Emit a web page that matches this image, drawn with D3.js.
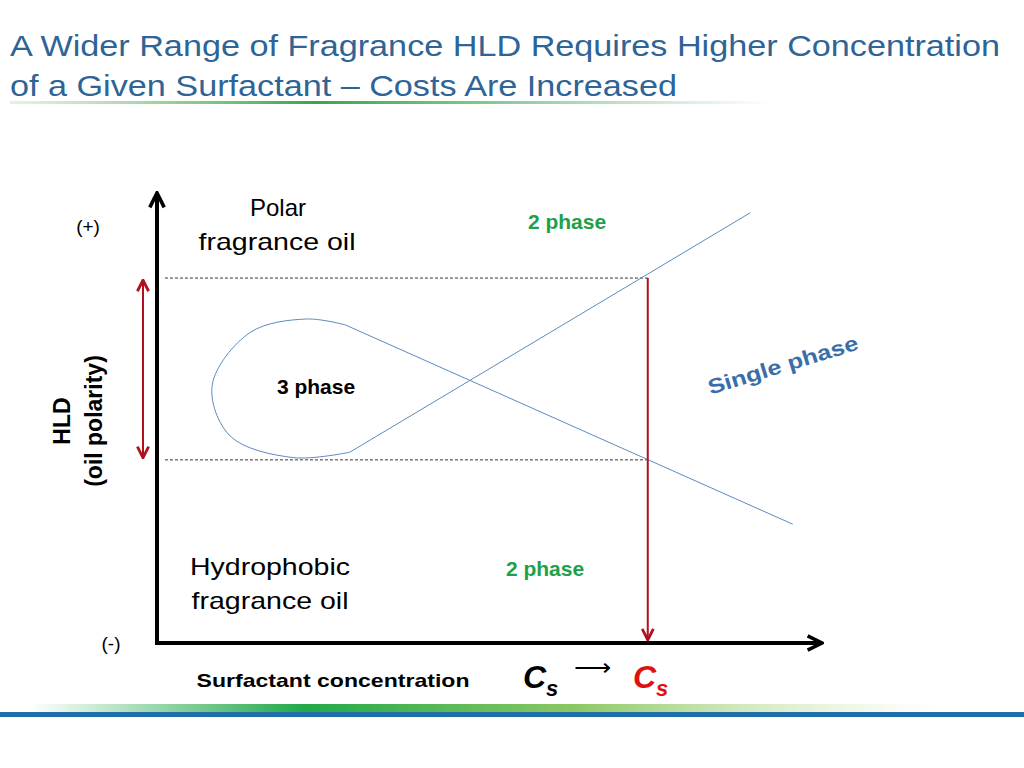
<!DOCTYPE html>
<html><head><meta charset="utf-8">
<script src="https://cdn.jsdelivr.net/npm/d3@7"></script>
<style>body{margin:0;background:#fff}text{font-family:"Liberation Sans",Arial,sans-serif}</style>
</head><body><div id="chart"></div>
<script>
// concentration (x) / HLD (y), both 0..100 units
var line1 = [[29.0, 42.4], [89.2, 95.6]];
var line2 = [[28.3, 70.7], [95.6, 26.4]];
var loop = [[28.3, 70.7], [22.5, 72.0], [14.0, 69.0], [8.3, 57.3], [11.0, 46.0], [20.5, 41.2], [29.0, 42.4]];
var hldTop = 81.1, hldBottom = 40.7, csValue = 73.8;

var svg = d3.select("#chart").append("svg").attr("width", 1024).attr("height", 768);

var x = d3.scaleLinear().domain([0, 100]).range([157, 822]);
var y = d3.scaleLinear().domain([0, 100]).range([643, 193]);

// title
svg.append("text").attr("x", 10).attr("y", 56).attr("font-size", 30).attr("fill", "#2e6496")
  .attr("textLength", 990).attr("lengthAdjust", "spacingAndGlyphs").text("A Wider Range of Fragrance HLD Requires Higher Concentration");
svg.append("text").attr("x", 10).attr("y", 96).attr("font-size", 30).attr("fill", "#2e6496")
  .attr("textLength", 667).attr("lengthAdjust", "spacingAndGlyphs").text("of a Given Surfactant \u2013 Costs Are Increased");

var defs = svg.append("defs");
var g1 = defs.append("linearGradient").attr("id", "gt");
g1.append("stop").attr("offset", "0").attr("stop-color", "#7fbf6a").attr("stop-opacity", 0.2);
g1.append("stop").attr("offset", "0.4").attr("stop-color", "#3aa64a");
g1.append("stop").attr("offset", "1").attr("stop-color", "#3aa64a").attr("stop-opacity", 0);
svg.append("rect").attr("x", 10).attr("y", 101).attr("width", 760).attr("height", 3).attr("fill", "url(#gt)");
var g2 = defs.append("linearGradient").attr("id", "gb");
g2.append("stop").attr("offset", "0").attr("stop-color", "#22a84a").attr("stop-opacity", 0);
g2.append("stop").attr("offset", "0.3").attr("stop-color", "#22a84a");
g2.append("stop").attr("offset", "0.6").attr("stop-color", "#8cc864");
g2.append("stop").attr("offset", "1").attr("stop-color", "#cfe6b0").attr("stop-opacity", 0);
svg.append("rect").attr("x", 30).attr("y", 704).attr("width", 910).attr("height", 8).attr("fill", "url(#gb)");
svg.append("rect").attr("x", 0).attr("y", 712).attr("width", 1024).attr("height", 5).attr("fill", "#1f6ea8");

// arrow markers
function marker(id, color, size) {
  defs.append("marker").attr("id", id).attr("viewBox", "0 0 10 10").attr("refX", 9).attr("refY", 5)
    .attr("markerWidth", size).attr("markerHeight", size).attr("orient", "auto-start-reverse").attr("markerUnits", "userSpaceOnUse")
    .append("path").attr("d", "M1,1 L9,5 L1,9").attr("fill", "none").attr("stroke", color).attr("stroke-width", 2);
}
marker("ak", "#000", 18);
marker("ar", "#b01020", 14);

// axes
svg.append("line").attr("x1", x(0)).attr("y1", y(0)).attr("x2", x(0)).attr("y2", y(100)).attr("stroke", "#000").attr("stroke-width", 4).attr("marker-end", "url(#ak)");
svg.append("line").attr("x1", x(0) - 2).attr("y1", y(0)).attr("x2", x(100)).attr("y2", y(0)).attr("stroke", "#000").attr("stroke-width", 4).attr("marker-end", "url(#ak)");

// dashed HLD limits
[hldTop, hldBottom].forEach(function (v) {
  svg.append("line").attr("x1", x(1.2)).attr("x2", x(csValue)).attr("y1", y(v)).attr("y2", y(v))
    .attr("stroke", "#000").attr("stroke-width", 0.8).attr("stroke-dasharray", "3,2");
});

// phase boundaries
var lg = d3.line().x(d => x(d[0])).y(d => y(d[1]));
[line1, line2].forEach(function (d) {
  svg.append("path").attr("d", lg(d)).attr("fill", "none").attr("stroke", "#5b8bc0").attr("stroke-width", 1);
});
svg.append("path").attr("d", lg.curve(d3.curveCatmullRom)(loop)).attr("fill", "none").attr("stroke", "#5b8bc0").attr("stroke-width", 1);

// red arrows
svg.append("line").attr("x1", x(csValue)).attr("x2", x(csValue)).attr("y1", y(hldTop)).attr("y2", y(0) - 3)
  .attr("stroke", "#b01020").attr("stroke-width", 2).attr("marker-end", "url(#ar)");
svg.append("line").attr("x1", 143).attr("x2", 143).attr("y1", y(hldTop) + 2).attr("y2", y(hldBottom) - 2)
  .attr("stroke", "#b01020").attr("stroke-width", 2).attr("marker-start", "url(#ar)").attr("marker-end", "url(#ar)");

// labels
function t(tx, ty, s, opt) {
  opt = opt || {};
  var el = svg.append("text").attr("x", tx).attr("y", ty).attr("font-size", opt.size || 24)
    .attr("font-weight", opt.bold ? "bold" : null).attr("fill", opt.color || "#000")
    .attr("text-anchor", opt.anchor || "middle").text(s);
  if (opt.len) el.attr("textLength", opt.len).attr("lengthAdjust", "spacingAndGlyphs");
  return el;
}
t(88, 233, "(+)", {size: 19});
t(111, 650, "(-)", {size: 19});
t(278, 216, "Polar");
t(277, 250, "fragrance oil", {len: 157});
t(270, 575, "Hydrophobic", {len: 160});
t(270, 609, "fragrance oil", {len: 157});
t(567, 229, "2 phase", {size: 21, bold: true, color: "#1ea04a"});
t(545, 576, "2 phase", {size: 21, bold: true, color: "#1ea04a"});
t(316, 394, "3 phase", {size: 21, bold: true});
t(785, 372, "Single phase", {size: 21, bold: true, color: "#3a6ea8", len: 156}).attr("transform", "rotate(-17,785,372)");
t(333, 687, "Surfactant  concentration", {size: 19, bold: true, len: 273});
svg.append("text").attr("transform", "translate(70,421) rotate(-90)").attr("text-anchor", "middle").attr("font-size", 23).attr("font-weight", "bold").text("HLD");
svg.append("text").attr("transform", "translate(102,421) rotate(-90)").attr("text-anchor", "middle").attr("font-size", 23).attr("font-weight", "bold").text("(oil polarity)");

function cs(cx, color) {
  var tt = svg.append("text").attr("x", cx).attr("y", 688).attr("font-family", "DejaVu Serif, serif")
    .attr("font-style", "italic").attr("font-weight", "bold").attr("font-size", 32).attr("fill", color);
  tt.append("tspan").text("C");
  tt.append("tspan").attr("font-size", 22).attr("dy", 8).text("s");
}
cs(523, "#000");
cs(633, "#e01010");
svg.append("text").attr("x", 592).attr("y", 676).attr("text-anchor", "middle").attr("font-family", "DejaVu Serif, serif").attr("font-size", 26).text("\u27F6");
</script></body></html>
